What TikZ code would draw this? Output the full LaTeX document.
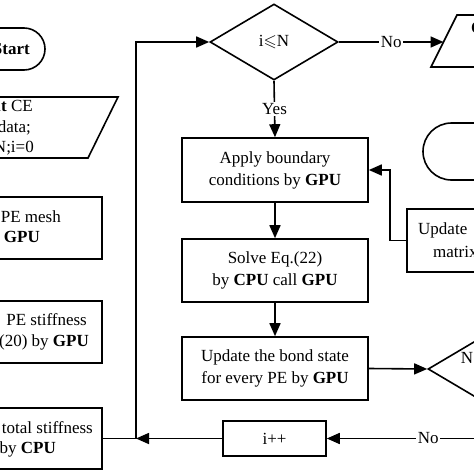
\documentclass[tikz,border=0pt]{standalone}
\usepackage{amssymb}
\usepackage{fontspec}
\setmainfont{Liberation Serif}
\usetikzlibrary{arrows.meta,shapes.geometric}
\begin{document}
\begin{tikzpicture}[x=1pt,y=-1pt,
  every node/.style={font=\fontsize{17}{22}\selectfont, inner sep=0pt},
  ln/.style={line width=1.6pt, line join=miter},
  arr/.style={ln, -{Triangle[length=13pt,width=11pt]}},
  box/.style={draw, ln, rectangle, align=center},
  dec/.style={draw, ln, diamond, aspect=1.684, minimum width=128pt, minimum height=76pt},
  lbl/.style={fill=white, inner sep=1.5pt}]
\useasboundingbox (0,0) rectangle (474,474);
% start terminal (partial)
\draw[ln] (-30,28) -- (24,28) arc[start angle=-90, end angle=90, radius=21] -- (-30,70);
\node[anchor=east] (tstart) at (30,49) {\textbf{Start}};
% input parallelogram (partial)
\draw[ln] (-30,97) -- (118,97) -- (88,158) -- (-30,158);
\node[anchor=east] (tin1) at (33,108) {\textbf{Input} CE};
\node[anchor=east] (tin2) at (31,128) {data;};
\node[anchor=east] (tin3) at (34,148) {N;i=0};
% left boxes (partial)
\node[box, minimum width=132pt, minimum height=62pt] (b1) at (36,228) {};
\node[anchor=east] (t11) at (61,217) {PE mesh};
\node[anchor=east] (t12) at (40,238) {by \textbf{GPU}};
\node[box, minimum width=132pt, minimum height=62pt] (b2) at (36,332) {};
\node[anchor=east] (t21) at (87,320) {PE stiffness};
\node[anchor=east] (t22) at (89,342) {(20) by \textbf{GPU}};
\node[box, minimum width=132pt, minimum height=61pt] (b3) at (36,438.5) {};
\node[anchor=east] (t31) at (93,428) {total stiffness};
\node[anchor=east] (t32) at (56,449) {by \textbf{CPU}};
% decision
\node[dec] (dtop) at (274,42) {i$\leqslant$N};
% main column
\node[box, minimum width=186pt, minimum height=64pt] (apply) at (275,170) {Apply boundary\\conditions by \textbf{GPU}};
\node[box, minimum width=186pt, minimum height=63pt] (solve) at (275,270.5) {Solve Eq.(22)\\by \textbf{CPU} call \textbf{GPU}};
\node[box, minimum width=186pt, minimum height=63pt] (upd) at (275,368.5) {Update the bond state\\for every PE by \textbf{GPU}};
\node[box, minimum width=103pt, minimum height=35pt] (inc) at (274.5,438.5) {i++};
% right side
\draw[ln] (520,15) -- (457,15) -- (431,67) -- (520,67);
\coordinate (outin) at (443.5,42);
\node[anchor=west] (tout) at (471,30) {\textbf{Output}};
\draw[ln] (520,123) -- (451.5,123) arc[start angle=270, end angle=90, radius=28.5] -- (520,180);
\node[box, minimum width=106pt, minimum height=63pt] (umat) at (460,240.5) {};
\node[anchor=west] (tu1) at (418,230) {Update};
\node[anchor=west] (tu2) at (433,252) {matrix};
\node[dec] (dright) at (492,369) {};
\node (tn) at (467,358) {N};
% connectors
\coordinate (j) at (136,438.5);
\draw[arr] (b3.east) -- (j) |- (dtop.west);
\draw[arr] (inc.west) -- (j);
\draw[arr] (dtop.south) -- node[lbl] (yes) {Yes} (apply.north);
\draw[arr] (dtop.east) -- node[lbl] (no1) {No} (outin);
\draw[arr] (apply.south) -- (solve.north);
\draw[arr] (solve.south) -- (upd.north);
\draw[arr] (upd.east) -- (dright.west);
\draw[arr] (dright.south) |- node[lbl, pos=0.693] (no2) {No} (inc.east);
\draw[arr] (umat.west) -- ++(-16,0) |- (apply.east);
\end{tikzpicture}
\end{document}
